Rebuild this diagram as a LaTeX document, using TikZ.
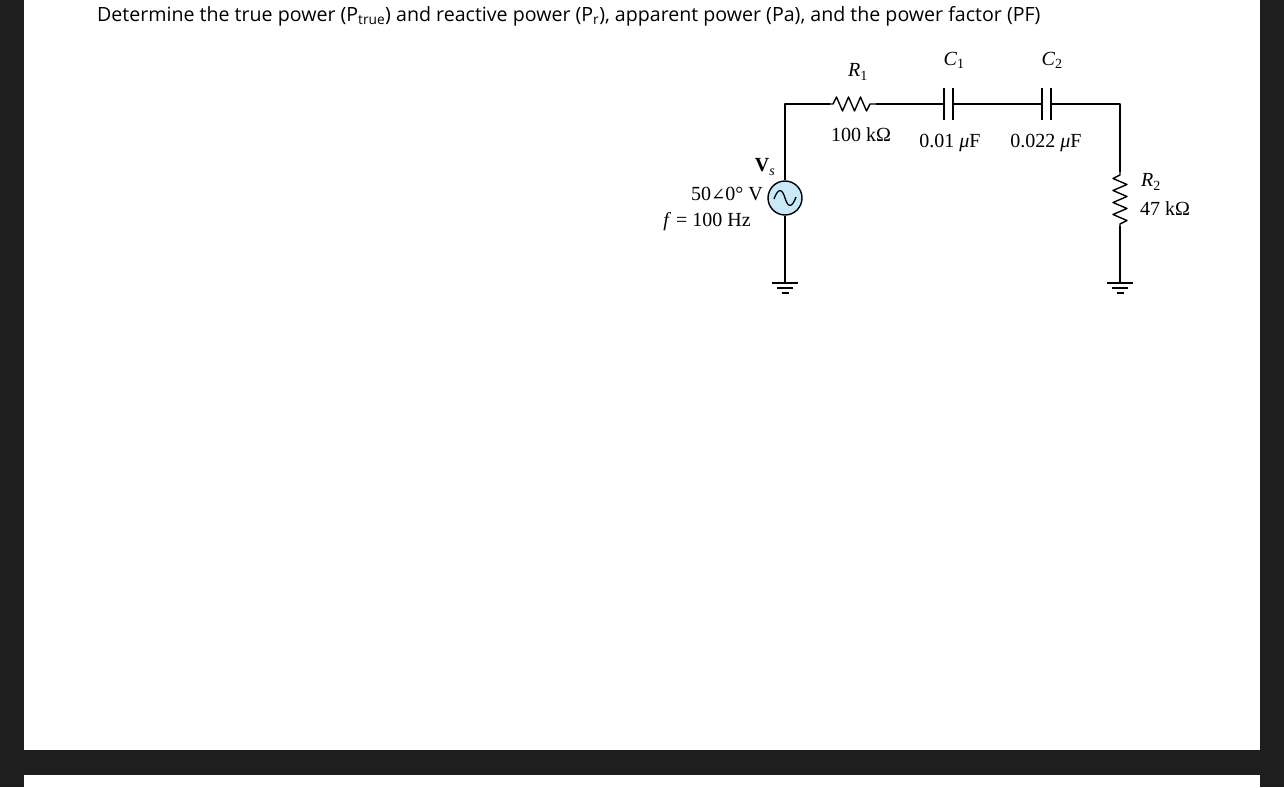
\documentclass[tikz,border=0pt]{standalone}
\usepackage{fontspec}
\setmainfont{Liberation Serif}
\newfontfamily\titlefont{Open Sans}
\newfontfamily\symfont{DejaVu Serif}
\definecolor{bgdark}{HTML}{1E1E1E}
\definecolor{srcblue}{HTML}{C9E8F8}
\newcommand{\sub}[1]{\textsubscript{#1}}
\begin{document}
\begin{tikzpicture}[x=1pt,y=-1pt,
  wire/.style={line width=1.4pt,line join=round},
  lbl/.style={font=\fontsize{20}{22}\selectfont,inner sep=0pt},
  gndline/.style={line width=1.6pt}]
\useasboundingbox (0,0) rectangle (1284,787);
\fill[bgdark] (0,0) rectangle (1284,787);
\fill[white] (24,0) rectangle (1260,750);
\fill[white] (24,775) rectangle (1260,787);
\node[anchor=west,inner sep=0pt,font=\titlefont\fontsize{19.6}{21}\selectfont] (title) at (97,16)
 {Determine the true power (P\textsubscript{true}) and reactive power (P\textsubscript{r}), apparent power (Pa), and the power factor (PF)};
\coordinate (tl) at (785,104);
\coordinate (tr) at (1120,104);
\coordinate (r1a) at (830,104);
\coordinate (r1b) at (876,104);
\coordinate (c1a) at (944,104);
\coordinate (c1b) at (953,104);
\coordinate (c2a) at (1042,104);
\coordinate (c2b) at (1051,104);
\coordinate (r2a) at (1120,172);
\coordinate (r2b) at (1120,226);
\coordinate (g1) at (785,283);
\coordinate (g2) at (1120,283);
\node[circle,draw,line width=1.4pt,fill=srcblue,minimum size=34pt,inner sep=0pt] (src) at (785,198) {};
\draw[line width=1.3pt] (774,199) .. controls (778,188) and (782,188) .. (785,198) .. controls (788,208) and (792,208) .. (796,197);
\draw[wire] (src.north) -- (tl) -- (r1a);
\draw[wire] (r1a) -- ++(3,0) -- ++(3.5,-7) -- ++(6,14) -- ++(6,-14) -- ++(6,14) -- ++(6,-14) -- ++(6,14) -- ++(3.5,-7) -- (r1b);
\draw[wire] (r1b) -- (c1a);
\draw[wire] (c1b) -- (c2a);
\draw[wire] (c2b) -- (tr) -- (r2a);
\draw[line width=1.6pt] (944,88) -- (944,120) (953,88) -- (953,120);
\draw[line width=1.6pt] (1042,88) -- (1042,120) (1051,88) -- (1051,120);
\draw[wire] (r2a) -- ++(0,3) -- ++(-7,3.5) -- ++(14,6) -- ++(-14,6) -- ++(14,6) -- ++(-14,6) -- ++(14,6) -- ++(-14,6) -- ++(14,6) -- ++(-7,3.5) -- (r2b);
\draw[wire] (r2b) -- (g2);
\draw[wire] (src.south) -- (g1);
\foreach \g in {g1,g2}{
  \draw[gndline] ([xshift=-13pt]\g) -- ([xshift=13pt]\g);
  \draw[gndline] ([xshift=-8pt,yshift=-5pt]\g) -- ([xshift=8pt,yshift=-5pt]\g);
  \draw[gndline] ([xshift=-3.5pt,yshift=-10pt]\g) -- ([xshift=3.5pt,yshift=-10pt]\g);
}
\node[lbl] (lr1) at (858,72) {\textit{R}\sub{1}};
\node[lbl] (vr1) at (861,135) {100 kΩ};
\node[lbl] (lc1) at (954,60) {\textit{C}\sub{1}};
\node[lbl] (vc1) at (950,143) {0.01 \textit{μ}F};
\node[lbl] (lc2) at (1052,60) {\textit{C}\sub{2}};
\node[lbl] (vc2) at (1046,143) {0.022 \textit{μ}F};
\node[lbl] (lvs) at (765,167) {\textbf{V}\sub{\textit{s}}};
\node[lbl,anchor=east] (vvs) at (763,194) {50{\symfont\fontsize{17}{20}\selectfont∠}0° V};
\node[lbl,anchor=east] (fvs) at (751,222) {\textit{f} = 100 Hz};
\node[lbl,anchor=west] (lr2) at (1141,182) {\textit{R}\sub{2}};
\node[lbl,anchor=west] (vr2) at (1140,209) {47 kΩ};
\end{tikzpicture}
\end{document}
